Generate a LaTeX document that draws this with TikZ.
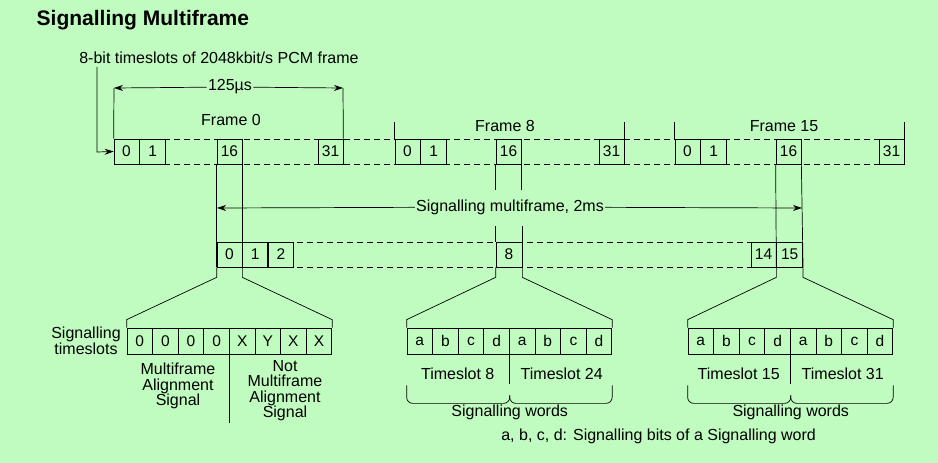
\documentclass[tikz,border=0pt]{standalone}
\usepackage{fontspec}
\setmainfont{Liberation Sans}
\usetikzlibrary{arrows.meta,positioning}
\definecolor{bgreen}{RGB}{192,252,192}
\tikzset{
  cell/.style={draw, fill=bgreen, inner sep=0pt, minimum height=25pt, font=\fontsize{15.5}{18}\selectfont},
  bit/.style={cell, minimum width=25.6pt, minimum height=26pt},
  lbl/.style={font=\fontsize{16}{15.5}\selectfont, align=center, inner sep=1pt},
  dim/.style={-{Stealth[length=9pt,width=6pt]}},
  gap/.style={dash pattern=on 6pt off 4pt},
}
\begin{document}
\begin{tikzpicture}[x=1pt,y=-1pt,line width=0.7pt]
\fill[bgreen] (0,0) rectangle (938,463);
\useasboundingbox (0,0) rectangle (938,463);

\node[anchor=west, font=\bfseries\fontsize{21}{24}\selectfont] (title) at (33,20) {Signalling Multiframe};

% PCM frames
\draw[gap] (114,139) -- (904,139) (114,164) -- (904,164);
\foreach \f/\x/\s in {0/114/217, 8/395/496, 15/675/776} {
  \node[cell, minimum width=25pt] (f\f-0) at (\x+12.5,151.5) {0};
  \node[cell, minimum width=26pt, right=0pt of f\f-0] (f\f-1) {1};
  \node[cell, minimum width=25pt] (f\f-16) at (\s+12.5,151.5) {16};
  \node[cell, minimum width=25pt] (f\f-31) at (\x+216.5,151.5) {31};
}
\node[lbl] (fr0) at (231,120) {Frame 0};
\node[lbl] (fr8) at (505,126) {Frame 8};
\node[lbl] (fr15) at (784,126) {Frame 15};
\draw (f8-0.north west) -- ++(0,-17) (f8-31.north east) -- ++(0,-17);
\draw (f15-0.north west) -- ++(0,-17) (f15-31.north east) -- ++(0,-17);

% 125 us
\coordinate (tl) at (114,88);
\coordinate (tr) at (343,88);
\draw (f0-0.north west) -- (tl) (f0-31.north east) -- (tr);
\node[lbl, fill=bgreen] (t125) at (230,87) {125µs};
\draw[dim] (t125) -- (tl);
\draw[dim] (t125) -- (tr);

% timeslot note
\node[lbl, anchor=west] (note) at (78,58) {8-bit timeslots of 2048kbit/s PCM frame};
\coordinate (nb) at (97,152);
\draw[dim] (97,67) -- (nb) -- (f0-0.west);

% multiframe
\draw[gap] (217,242) -- (802,242) (217,267) -- (802,267);
\node[cell, minimum width=25pt] (m0) at (229.5,254.5) {0};
\node[cell, minimum width=25pt, right=0pt of m0] (m1) {1};
\node[cell, minimum width=25pt, right=0pt of m1] (m2) {2};
\node[cell, minimum width=26pt] (m8) at (509,254.5) {8};
\node[cell, minimum width=25pt] (m14) at (763.5,254.5) {14};
\node[cell, minimum width=26pt, right=0pt of m14] (m15) {15};

\draw (f0-16.south west) -- (m0.south west) (f0-16.south east) -- (m0.south east);
\draw (f15-16.south west) -- (m15.south west) (f15-16.south east) -- (m15.south east);
\draw (f8-16.south west) -- ++(0,26) (f8-16.south east) -- ++(0,26);
\draw (m8.north west) -- ++(0,-16) (m8.north east) -- ++(0,-16);

\coordinate (ml) at (217,208);
\coordinate (mr) at (802,208);
\node[lbl, fill=bgreen] (smf) at (510,207) {Signalling multiframe, 2ms};
\draw[dim] (smf) -- (ml);
\draw[dim] (smf) -- (mr);

% signalling timeslots
\foreach \g/\x/\lst in {a/127/{0,0,0,0,X,Y,X,X}, b/407/{a,b,c,d,a,b,c,d}, c/688/{a,b,c,d,a,b,c,d}} {
  \foreach \t [count=\i from 0] in \lst {
    \node[bit] (\g\i) at (\x+12.8+25.6*\i,341) {\t};
  }
}
\foreach \g/\m in {a/m0, b/m8, c/m15} {
  \draw (\m.south west) -- ++(0,10) -- ([yshift=8pt]\g0.north west) -- (\g0.north west);
  \draw (\m.south east) -- ++(0,10) -- ([yshift=8pt]\g7.north east) -- (\g7.north east);
}

\node[lbl] (sts) at (86,341) {Signalling\\timeslots};
\draw (a3.south east) -- ++(0,69);
\node[lbl, anchor=north] (mas) at (178,362) {Multiframe\\Alignment\\Signal};
\node[lbl, anchor=north] (nmas) at (285,359) {Not\\Multiframe\\Alignment\\Signal};

\foreach \g/\l/\r in {b/8/24, c/15/31} {
  \draw (\g3.south east) -- ++(0,30);
  \node[lbl] (\g l) at ([xshift=-52pt,yshift=-19pt]\g3.south east) {Timeslot \l};
  \node[lbl] (\g r) at ([xshift=52pt,yshift=-19pt]\g3.south east) {Timeslot \r};
  \coordinate (\g m) at ([yshift=-41pt]\g3.south east);
  \draw[rounded corners=6pt] ([yshift=-31pt]\g0.south west) |- ([yshift=-8pt]\g m) -- (\g m);
  \draw[rounded corners=6pt] ([yshift=-31pt]\g7.south east) |- ([yshift=-8pt]\g m) -- (\g m);
  \node[lbl] (\g w) at ([yshift=-58pt]\g3.south east) {Signalling words};
}

\node[lbl, anchor=west] (key) at (500,436) {a, b, c, d: Signalling bits of a Signalling word};
\end{tikzpicture}
\end{document}
